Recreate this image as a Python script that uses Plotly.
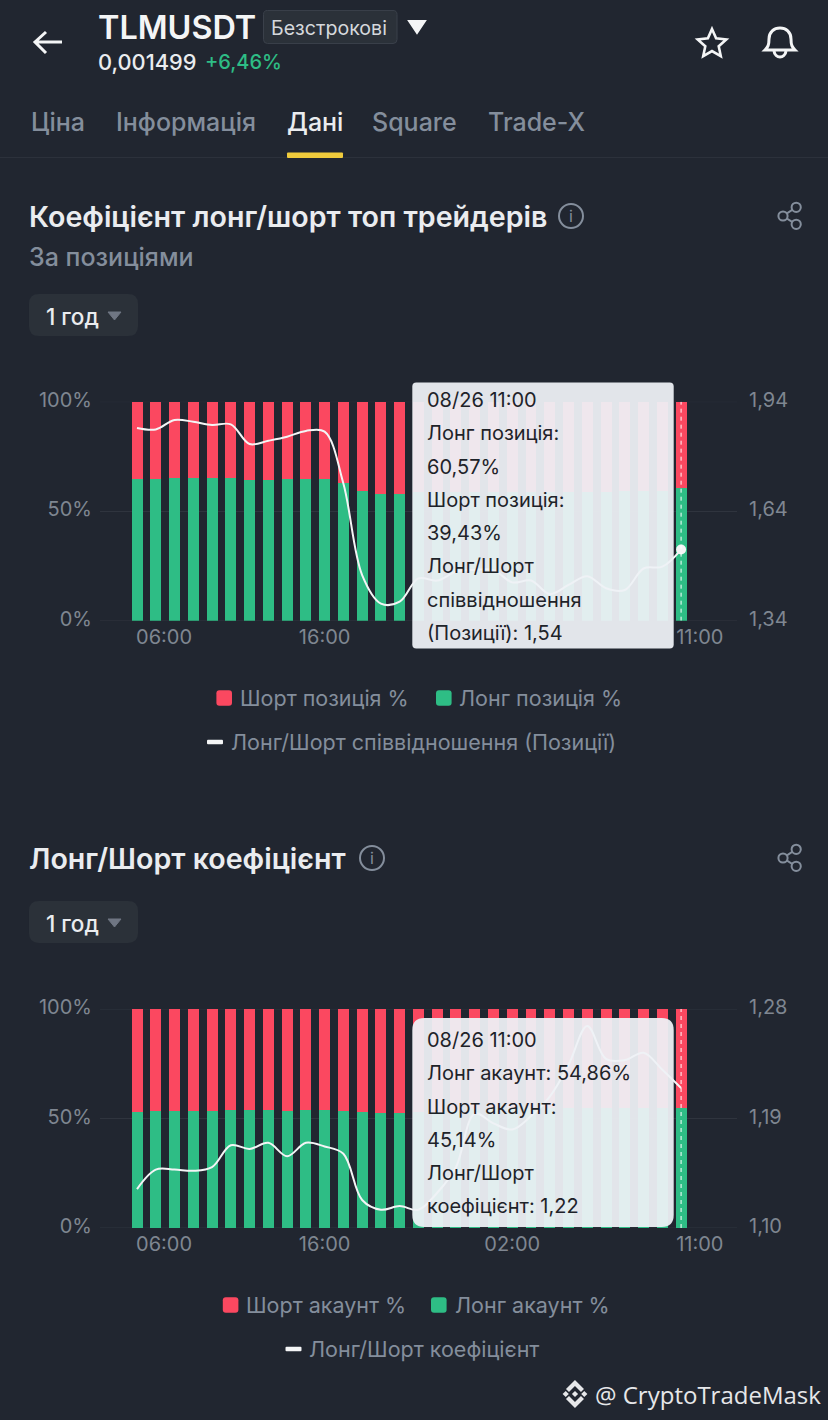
import re, math
import plotly.graph_objects as go

W, H = 828, 1420
BG = "#212630"
RED = "#FB4860"
GREEN = "#2EBD85"
GREY = "#848E9C"
TICK = "#7F8691"
WHITE = "#EAECEF"
PANEL = "#2B3139"
GRID = "#2F343E"
FONT = "Inter"

hours = ["06:00","07:00","08:00","09:00","10:00","11:00","12:00","13:00","14:00","15:00",
         "16:00","17:00","18:00","19:00","20:00","21:00","22:00","23:00","00:00","01:00",
         "02:00","03:00","04:00","05:00","06:00","07:00","08:00","09:00","10:00","11:00"]

pos_long = [64.7,64.7,65.3,65.2,65.0,65.2,64.4,64.4,64.5,64.7,64.7,62.9,59.1,58.0,58.0,
            58.6,58.7,58.8,58.9,58.9,58.9,58.9,58.9,58.9,58.9,58.9,59.0,59.2,59.4,60.57]
pos_short = [35.3,35.3,34.7,34.8,35.0,34.8,35.6,35.6,35.5,35.3,35.3,37.1,40.9,42.0,42.0,
             41.4,41.3,41.2,41.1,41.1,41.1,41.1,41.1,41.1,41.1,41.1,41.0,40.8,40.6,39.43]
pos_ratio = [1.868,1.864,1.890,1.885,1.876,1.878,1.824,1.833,1.844,1.860,1.858,1.716,1.465,1.387,1.392,
             1.456,1.450,1.474,1.479,1.479,1.445,1.450,1.413,1.438,1.462,1.429,1.424,1.483,1.488,1.535]

acc_long = [53.0,53.3,53.3,53.3,53.3,53.9,53.9,54.0,53.6,53.9,53.9,53.3,52.8,52.7,52.7,
            52.8,53.0,53.5,54.2,54.6,54.6,54.6,54.6,54.6,54.6,54.6,54.6,54.6,54.7,54.86]
acc_short = [47.0,46.7,46.7,46.7,46.7,46.1,46.1,46.0,46.4,46.1,46.1,46.7,47.2,47.3,47.3,
             47.2,47.0,46.5,45.8,45.4,45.4,45.4,45.4,45.4,45.4,45.4,45.4,45.4,45.3,45.14]
acc_ratio = [1.132,1.148,1.148,1.147,1.150,1.168,1.165,1.170,1.159,1.170,1.167,1.161,1.123,1.115,1.118,
             1.115,1.129,1.150,1.194,1.186,1.181,1.192,1.208,1.234,1.266,1.239,1.238,1.244,1.230,1.215]

idx = list(range(len(hours)))
# the first and last hour labels are nudged by the app so they fit the plot;
# the 02:00 label of the upper chart sits entirely under the tooltip
pos_tick_vals = [1.44, 10, 30]
pos_tick_text = ["06:00", "16:00", "11:00"]
acc_tick_vals = [1.44, 10, 20, 30]
acc_tick_text = ["06:00", "16:00", "02:00", "11:00"]
left_vals = [0, 50, 100]
left_text = ["0%", "50%", "100%"]
right_pos_vals = [1.34, 1.64, 1.94]
right_pos_text = ["1,34", "1,64", "1,94"]
right_acc_vals = [1.10, 1.19, 1.28]
right_acc_text = ["1,10", "1,19", "1,28"]

fig = go.Figure()

def add_chart(long_v, short_v, ratio, xa, ya, ya2, long_name, short_name, line_name):
    fig.add_bar(x=idx, y=long_v, name=long_name, marker=dict(color=GREEN, line_width=0),
                width=0.586, xaxis=xa, yaxis=ya, showlegend=False)
    fig.add_bar(x=idx, y=short_v, name=short_name, marker=dict(color=RED, line_width=0),
                width=0.586, xaxis=xa, yaxis=ya, showlegend=False)
    fig.add_scatter(x=idx, y=ratio, name=line_name, mode="lines", xaxis=xa, yaxis=ya2,
                    line=dict(color="#F4F5F6", width=2, shape="spline", smoothing=1),
                    showlegend=False)

add_chart(pos_long, pos_short, pos_ratio, "x", "y", "y2",
          "Лонг позиція %", "Шорт позиція %", "Лонг/Шорт співвідношення (Позиції)")
add_chart(acc_long, acc_short, acc_ratio, "x2", "y3", "y4",
          "Лонг акаунт %", "Шорт акаунт %", "Лонг/Шорт коефіцієнт")
fig.add_scatter(x=[idx[-1]], y=[pos_ratio[-1]], mode="markers", xaxis="x", yaxis="y2",
                marker=dict(color="#F4F5F6", size=10), showlegend=False, name="08/26 11:00")

X_RANGE = [-1.972, 31.98]
XDOM = [100 / W, 737 / W]

def dom(top, bottom):
    return [1 - bottom / H, 1 - top / H]

tick_font = dict(family=FONT, size=20, color=TICK)

def xaxis(anchor, vals, txt):
    return dict(domain=XDOM, range=X_RANGE, anchor=anchor, tickmode="array",
                tickvals=vals, ticktext=txt, showgrid=False, zeroline=False,
                showline=False, ticks="", tickfont=tick_font, ticklabelstandoff=2, tickangle=0)

def yleft(d, anchor):
    return dict(domain=d, range=[0, 100], anchor=anchor, tickmode="array", tickvals=left_vals,
                ticktext=left_text, showgrid=True, gridcolor=GRID, gridwidth=1, zeroline=False,
                showline=False, ticks="", tickfont=tick_font, ticklabelstandoff=7, ticklabelshift=-2)

def yright(overlay, anchor, vals, txt, rng):
    return dict(overlaying=overlay, anchor=anchor, side="right", range=rng, tickmode="array",
                tickvals=vals, ticktext=txt, showgrid=False, zeroline=False, showline=False,
                ticks="", tickfont=tick_font, ticklabelstandoff=11, ticklabelshift=-2)

fig.update_layout(
    width=W, height=H, margin=dict(l=0, r=0, t=0, b=0, pad=0, autoexpand=False), autosize=False,
    paper_bgcolor=BG, plot_bgcolor=BG, barmode="stack", showlegend=False, hovermode=False,
    font=dict(family=FONT, color=GREY),
    xaxis=xaxis("y", pos_tick_vals, pos_tick_text), xaxis2=xaxis("y3", acc_tick_vals, acc_tick_text),
    yaxis=yleft(dom(401.7, 620.7), "x"),
    yaxis2=yright("y", "x", right_pos_vals, right_pos_text, [1.34, 1.94]),
    yaxis3=yleft(dom(1009, 1228), "x2"),
    yaxis4=yright("y3", "x2", right_acc_vals, right_acc_text, [1.10, 1.28]),
)

shapes, annos = [], []

def fx(x): return x / W
def fy(y): return 1 - y / H

def conv(path):
    return re.sub(r"(-?[\d.]+),(-?[\d.]+)",
                  lambda m: f"{fx(float(m[1])):.5f},{fy(float(m[2])):.5f}", path)

def path(d, fill=None, line=None, width=0, layer="above"):
    shapes.append(dict(type="path", xref="paper", yref="paper", path=conv(d), layer=layer,
                       fillcolor=fill or "rgba(0,0,0,0)",
                       line=dict(color=line or "rgba(0,0,0,0)", width=width)))

def rr(x0, y0, x1, y1, r):
    return (f"M{x0+r},{y0} L{x1-r},{y0} Q{x1},{y0} {x1},{y0+r} L{x1},{y1-r} Q{x1},{y1} {x1-r},{y1} "
            f"L{x0+r},{y1} Q{x0},{y1} {x0},{y1-r} L{x0},{y0+r} Q{x0},{y0} {x0+r},{y0} Z")

def circle(cx, cy, r, fill=None, line=None, width=0):
    shapes.append(dict(type="circle", xref="paper", yref="paper", layer="above",
                       x0=fx(cx - r), x1=fx(cx + r), y0=fy(cy + r), y1=fy(cy - r),
                       fillcolor=fill or "rgba(0,0,0,0)",
                       line=dict(color=line or "rgba(0,0,0,0)", width=width)))

def text(x, y, s, size, color, anchor="left", weight=None, family=FONT):
    f = dict(family=family, size=size, color=color)
    if weight:
        f["weight"] = weight
    annos.append(dict(xref="paper", yref="paper", x=fx(x), y=fy(y), text=s, showarrow=False,
                      xanchor=anchor, yanchor="middle", font=f, borderpad=0, borderwidth=0, align=anchor))

# grid lines at the ends of the percent axis
for ya in ("y", "y3"):
    for v in (left_vals[0], left_vals[-1]):
        shapes.append(dict(type="line", xref="x domain" if ya == "y" else "x2 domain", yref=ya,
                           x0=0, x1=1, y0=v, y1=v, layer="below",
                           line=dict(color=GRID, width=1)))

# header
path("M62,42 L35,42 M46,32 L35,42 L46,53", line="#F4F5F6", width=3)
text(98, 28, "TLMUSDT", 32.4, "#F4F5F6", weight=600)
path(rr(263.5, 10.5, 397, 43.5, 4), fill=PANEL, line="#3A404A", width=1)
text(271, 28, "Безстрокові", 19.6, "#D5D8DC")
path("M409,21 L425,21 L417,33 Z", fill="#F4F5F6", line="#F4F5F6", width=2)
text(98, 62, "0,001499", 21.8, WHITE, weight=500)
text(205, 62, "+6,46%", 20, GREEN, weight=500)
pts = []
for k in range(10):
    R = 15 if k % 2 == 0 else 7
    a = -math.pi / 2 + k * math.pi / 5
    pts.append(f"{712 + R * math.cos(a):.1f},{44 + R * math.sin(a):.1f}")
path("M" + " L".join(pts) + " Z", line="#F4F5F6", width=2.6)
path("M765,50 C768,47 769,45 769,39 C769,32 774,28 780,28 C786,28 791,32 791,39 C791,45 792,47 795,50 Z",
     line="#F4F5F6", width=3)
path("M774,51 C775,59 785,59 786,51", line="#F4F5F6", width=3)

# tabs
for x, s, c in [(31, "Ціна", GREY), (116, "Інформація", GREY), (287, "Дані", WHITE),
                (372, "Square", GREY), (488, "Trade-X", GREY)]:
    text(x, 122, s, 25, c, weight=500)
path("M0,157.5 L828,157.5", line="#2C313B", width=1)
path(rr(287, 152.5, 343, 158, 1), fill="#F0CB3C")

def share(cy):
    path(f"M796,{cy-8.7} L783,{cy} L796,{cy+8.3}", line=GREY, width=2)
    for yy in (cy - 8.7, cy, cy + 8.3):
        circle(796.2 if yy != cy else 783, yy, 4.6, fill=BG, line=GREY, width=2)

def info(cx, cy):
    circle(cx, cy, 12, line=GREY, width=2)
    text(cx, cy, "i", 16, GREY, anchor="center")

def dropdown(y0):
    path(rr(29, y0, 138, y0 + 42, 10), fill=PANEL)
    text(46, y0 + 22, "1 год", 22.5, WHITE, weight=500)
    path(f"M108,{y0+18} L121,{y0+18} L114.5,{y0+26} Z", fill="#6F7683", line="#6F7683", width=1)

text(29, 216, "Коефіцієнт лонг/шорт топ трейдерів", 28.6, WHITE, weight=600)
info(571, 216)
share(216)
text(29, 257, "За позиціями", 25, GREY, weight=500)
dropdown(294)

text(29, 858, "Лонг/Шорт коефіцієнт", 28.6, WHITE, weight=600)
info(372, 858)
share(858)
dropdown(901)

# legends
def legend_sq(x, y, color):
    path(rr(x, y - 7.8, x + 15.6, y + 7.8, 3), fill=color)

def legend_line(x, y):
    path(rr(x, y - 2.2, x + 16, y + 2.2, 1), fill="#F4F5F6")

LEG = 21.5
legend_sq(216.4, 698, RED); text(240, 698, "Шорт позиція %", LEG, GREY)
legend_sq(436, 698, GREEN); text(459, 698, "Лонг позиція %", LEG, GREY)
legend_line(207, 742); text(231, 742, "Лонг/Шорт співвідношення (Позиції)", LEG, GREY)
legend_sq(222.8, 1305, RED); text(246, 1305, "Шорт акаунт %", LEG, GREY)
legend_sq(431, 1305, GREEN); text(455, 1305, "Лонг акаунт %", LEG, GREY)
legend_line(285.5, 1349); text(309, 1349, "Лонг/Шорт коефіцієнт", LEG, GREY)

# hover guide lines at the last hour
for xa, ya in [("x", "y"), ("x2", "y3")]:
    shapes.append(dict(type="line", xref=xa, yref=ya, x0=idx[-1], x1=idx[-1], y0=0, y1=100,
                       layer="above", line=dict(color="#FFFFFF", width=1, dash="4px,4px")))

# tooltips
TIP = "rgba(238,241,245,0.94)"
TT = "#1E2329"
path(rr(412.3, 382.5, 673.7, 648.5, 4), fill=TIP)
for y, s in zip([400, 433, 467, 500, 533, 566, 600, 633],
                ["08/26 11:00", "Лонг позиція:", "60,57%", "Шорт позиція:", "39,43%",
                 "Лонг/Шорт", "співвідношення", "(Позиції): 1,54"]):
    text(427, y, s, 20, TT)
path(rr(412.3, 1018, 673.7, 1227, 12), fill=TIP)
for y, s in zip([1040, 1073, 1107, 1140, 1173, 1206],
                ["08/26 11:00", "Лонг акаунт: 54,86%", "Шорт акаунт:", "45,14%",
                 "Лонг/Шорт", "коефіцієнт: 1,22"]):
    text(427, y, s, 20, TT)

# watermark
LOGO = "#E6E7E9"
for cx, cy in [(565.7, 1394), (575, 1394), (584.3, 1394)]:
    path(f"M{cx-3.1},{cy} L{cx},{cy-3.1} L{cx+3.1},{cy} L{cx},{cy+3.1} Z", fill=LOGO)
path("M575,1380 L584,1389 L581,1392 L575,1386 L569,1392 L566,1389 Z", fill=LOGO)
path("M575,1408 L584,1399 L581,1396 L575,1402 L569,1396 L566,1399 Z", fill=LOGO)
text(595, 1394, "@ CryptoTradeMask", 24, "#E6E7E9", family="Open Sans")

fig.update_layout(shapes=shapes, annotations=annos)

fig.write_html("out.html", config={"displayModeBar": False},
               post_script=f"document.body.style.margin='0';document.body.style.background='{BG}';")
